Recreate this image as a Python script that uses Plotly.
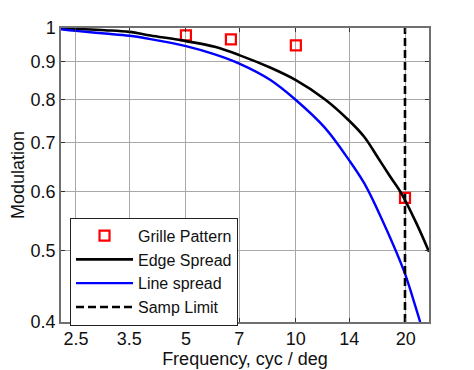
import math
import plotly.graph_objects as go

# Data
edge_freq = [2.275, 2.5, 3.0, 3.5, 4.0, 5.0, 6.0, 7.0, 8.5, 10.0, 12.0, 14.0, 15.4, 16.7, 18.1, 19.5, 21.5, 23.15]
edge_mod = [0.999, 0.997, 0.993, 0.988, 0.977, 0.960, 0.943, 0.919, 0.884, 0.850, 0.801, 0.749, 0.712, 0.670, 0.630, 0.596, 0.541, 0.498]

line_freq = [2.275, 2.5, 3.0, 3.5, 4.0, 5.0, 6.0, 7.0, 8.5, 10.0, 12.0, 14.0, 15.4, 17.0, 19.8, 21.0, 21.9]
line_mod = [0.996, 0.991, 0.983, 0.976, 0.966, 0.945, 0.921, 0.895, 0.851, 0.799, 0.733, 0.662, 0.616, 0.558, 0.468, 0.428, 0.400]

grille_freq = [5.0, 6.64, 10.0, 19.9]
grille_mod = [0.977, 0.965, 0.947, 0.589]

samp_freq = [19.9, 19.9]
samp_mod = [0.4, 1.0]

x_ticks = [2.5, 3.5, 5, 7, 10, 14, 20]
x_ticktext = ["2.5", "3.5", "5", "7", "10", "14", "20"]
y_ticks = [0.4, 0.5, 0.6, 0.7, 0.8, 0.9, 1.0]
y_ticktext = ["0.4", "0.5", "0.6", "0.7", "0.8", "0.9", "1"]

FONT = "Liberation Sans, Arial, sans-serif"
FS = 18
LFS = 16

fig = go.Figure()
fig.add_trace(go.Scatter(x=grille_freq, y=grille_mod, mode="markers", name="Grille Pattern",
                         marker=dict(symbol="square-open", size=10, color="#ff0000",
                                     line=dict(width=2.2, color="#ff0000"))))
fig.add_trace(go.Scatter(x=edge_freq, y=edge_mod, mode="lines", name="Edge Spread",
                         line=dict(color="#000000", width=2.6, shape="spline", smoothing=1.0)))
fig.add_trace(go.Scatter(x=line_freq, y=line_mod, mode="lines", name="Line spread",
                         line=dict(color="#0000ff", width=2.4, shape="spline", smoothing=1.0)))
fig.add_trace(go.Scatter(x=samp_freq, y=samp_mod, mode="lines", name="Samp Limit",
                         line=dict(color="#000000", width=2.6, dash="8px,4px")))

axis_common = dict(
    showgrid=True, gridcolor="#a8a8a8", gridwidth=1,
    showline=True, linecolor="#707070", linewidth=1.5, mirror="ticks",
    ticks="inside", ticklen=4, tickcolor="#333333", tickwidth=1,
    zeroline=False,
    tickfont=dict(family=FONT, size=FS, color="#111111"),
)

fig.update_xaxes(type="log", range=[math.log10(2.275), math.log10(23.15)],
                 tickvals=x_ticks, ticktext=x_ticktext,
                 title=dict(text="Frequency, cyc / deg", font=dict(family=FONT, size=FS, color="#111111"),
                            standoff=2),
                 **axis_common)
fig.update_yaxes(type="log", range=[math.log10(0.4), 0.0],
                 tickvals=y_ticks, ticktext=y_ticktext,
                 title=dict(text="Modulation", font=dict(family=FONT, size=FS, color="#111111"),
                            standoff=5),
                 **axis_common)

# page body has an 8px margin, so the figure's own margins are shifted to compensate
fig.update_layout(
    width=474, height=370,
    margin=dict(l=53, r=53, t=20, b=56, autoexpand=False),
    paper_bgcolor="white", plot_bgcolor="white",
    font=dict(family=FONT, size=FS, color="#111111"),
    showlegend=True,
    legend=dict(x=0.0245, y=0.355, xanchor="left", yanchor="top",
                bgcolor="white", bordercolor="#222222", borderwidth=1,
                font=dict(family=FONT, size=LFS, color="#111111"),
                itemwidth=57, tracegroupgap=0),
)

fig.write_html("out.html")
